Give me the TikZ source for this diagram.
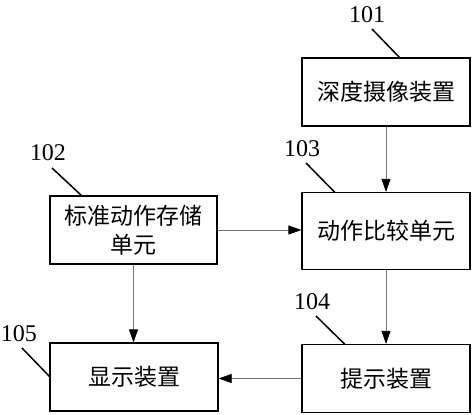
\documentclass[tikz,border=0pt]{standalone}
\usepackage{fontspec}
\setmainfont{Liberation Serif}
\newfontfamily\cjk{Noto Sans CJK SC}
\usetikzlibrary{arrows.meta,calc}
\begin{document}
\begin{tikzpicture}[x=1pt,y=-1pt,
  box/.style={draw=black,line width=1.2pt,minimum width=168pt,minimum height=68pt,inner sep=0pt,font=\cjk\fontsize{23}{29}\selectfont,align=center},
  num/.style={inner sep=0pt,font=\fontsize{24}{24}\selectfont},
  leader/.style={draw=black,line width=1.5pt},
  flow/.style={draw=black!55,line width=0.7pt,-{Triangle[length=13pt,width=9pt,color=black]}}]
\useasboundingbox (0,0) rectangle (474,415);
% boxes
\node[box] (b101) at (386,92) {深度摄像装置};
\node[box,minimum height=77pt] (b103) at (386,231) {动作比较单元};
\node[box,minimum width=167pt] (b102) at (133.5,230) {标准动作存储\\单元};
\node[box] (b105) at (134,377) {显示装置};
\node[box] (b104) at (386,378.5) {提示装置};
% labels
\node[num] (l101) at (367,15) {101};
\node[num] (l102) at (48,153) {102};
\node[num] (l103) at (302,149) {103};
\node[num] (l104) at (312,302) {104};
\node[num] (l105) at (19,334) {105};
% leader ends
\coordinate (s101) at (372,29);  \coordinate (e101) at (400,58);
\coordinate (s102) at (52,168);  \coordinate (e102) at (82,196);
\coordinate (s103) at (306,163); \coordinate (e103) at (335,192.5);
\coordinate (s104) at (316,316); \coordinate (e104) at (345,344.5);
\coordinate (s105) at (22,348);  \coordinate (e105) at (50,377);
\draw[leader] (s101) -- (e101);
\draw[leader] (s102) -- (e102);
\draw[leader] (s103) -- (e103);
\draw[leader] (s104) -- (e104);
\draw[leader] (s105) -- (e105);
% flows
\draw[flow] (b101.south) -- (b103.north);
\draw[flow] (b102.east) -- (b102.east -| b103.west);
\draw[flow] (b102.south) -- (b102.south |- b105.north);
\draw[flow] (b103.south) -- (b104.north);
\draw[flow] (b104.west) -- (b104.west -| b105.east);
\end{tikzpicture}
\end{document}
